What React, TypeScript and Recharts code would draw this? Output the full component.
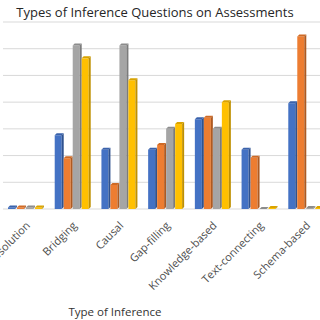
import { BarChart, Bar, XAxis, YAxis, CartesianGrid } from 'recharts'

const categories = [
  'Anaphor resolution',
  'Bridging',
  'Causal',
  'Gap-filling',
  'Knowledge-based',
  'Text-connecting',
  'Schema-based',
]

const seriesA = [0.3, 13.8, 11.1, 11.1, 16.8, 11.1, 19.8]
const seriesB = [0.3, 9.5, 4.5, 12.0, 17.1, 9.6, 32.3]
const seriesC = [0.3, 30.6, 30.6, 15.0, 15.0, 0, 0.2]
const seriesD = [0.3, 28.2, 24.1, 15.9, 20.0, 0.2, 0.2]

const yTicks = [0, 5, 10, 15, 20, 25, 30, 35]

const data = categories.map((name, i) => ({
  name,
  a: seriesA[i],
  b: seriesB[i],
  c: seriesC[i],
  d: seriesD[i],
}))

const FONT = '"Open Sans", "Liberation Sans", sans-serif'

// front face + top + right side, Excel-style 3D column
function makeShape(front: string, top: string, side: string) {
  return function Column3D(props: any) {
    const { x, y, width, height } = props
    if (width == null || height == null) return null
    const dep = 2
    const fw = width - dep
    return (
      <g>
        <rect x={x} y={y} width={fw} height={height} fill={front} />
        <polygon
          points={`${x},${y} ${x + dep},${y - dep} ${x + fw + dep},${y - dep} ${x + fw},${y}`}
          fill={top}
        />
        <polygon
          points={`${x + fw},${y} ${x + fw + dep},${y - dep} ${x + fw + dep},${y + height - dep} ${x + fw},${y + height}`}
          fill={side}
        />
      </g>
    )
  }
}

function AngledTick({ x, y, payload }: any) {
  return (
    <g transform={`translate(${x + 2},${y + 7})`}>
      <text
        x={0}
        y={0}
        dy="0.3em"
        textAnchor="end"
        transform="rotate(-45)"
        fill="#4d4d4d"
        fontSize={11}
        fontFamily={FONT}
      >
        {payload.value}
      </text>
    </g>
  )
}

export default function App() {
  return (
    <div
      style={{
        position: 'fixed',
        left: 0,
        top: 0,
        width: 320,
        height: 320,
        overflow: 'hidden',
        background: '#fff',
      }}
    >
      <div
        style={{
          position: 'absolute',
          left: 0,
          top: 3,
          width: 310,
          textAlign: 'center',
          fontFamily: FONT,
          fontSize: 13,
          color: '#262626',
          whiteSpace: 'nowrap',
        }}
      >
        Types of Inference Questions on Assessments
      </div>
      <div style={{ position: 'absolute', left: 0, top: 0 }}>
        <BarChart
          width={340}
          height={320}
          data={data}
          margin={{ top: 22, right: 10, bottom: 0, left: 3 }}
          barGap={0}
          barSize={9}
        >
          <CartesianGrid vertical={false} stroke="#d9d9d9" />
          <YAxis hide domain={[0, 35]} ticks={yTicks} />
          <XAxis
            dataKey="name"
            axisLine={false}
            tickLine={false}
            interval={0}
            height={111}
            tick={<AngledTick />}
          />
          <Bar dataKey="a" isAnimationActive={false} shape={makeShape('#4472c4', '#3a62ab', '#2f528f')} />
          <Bar dataKey="b" isAnimationActive={false} shape={makeShape('#ed7d31', '#cf6a25', '#ae5a21')} />
          <Bar dataKey="c" isAnimationActive={false} shape={makeShape('#a5a5a5', '#8c8c8c', '#7b7b7b')} />
          <Bar dataKey="d" isAnimationActive={false} shape={makeShape('#ffc000', '#d9a300', '#bf9000')} />
        </BarChart>
      </div>
      <div
        style={{
          position: 'absolute',
          left: 115,
          top: 304,
          transform: 'translateX(-50%)',
          fontFamily: FONT,
          fontSize: 11.5,
          color: '#333',
          whiteSpace: 'nowrap',
        }}
      >
        Type of Inference
      </div>
    </div>
  )
}
